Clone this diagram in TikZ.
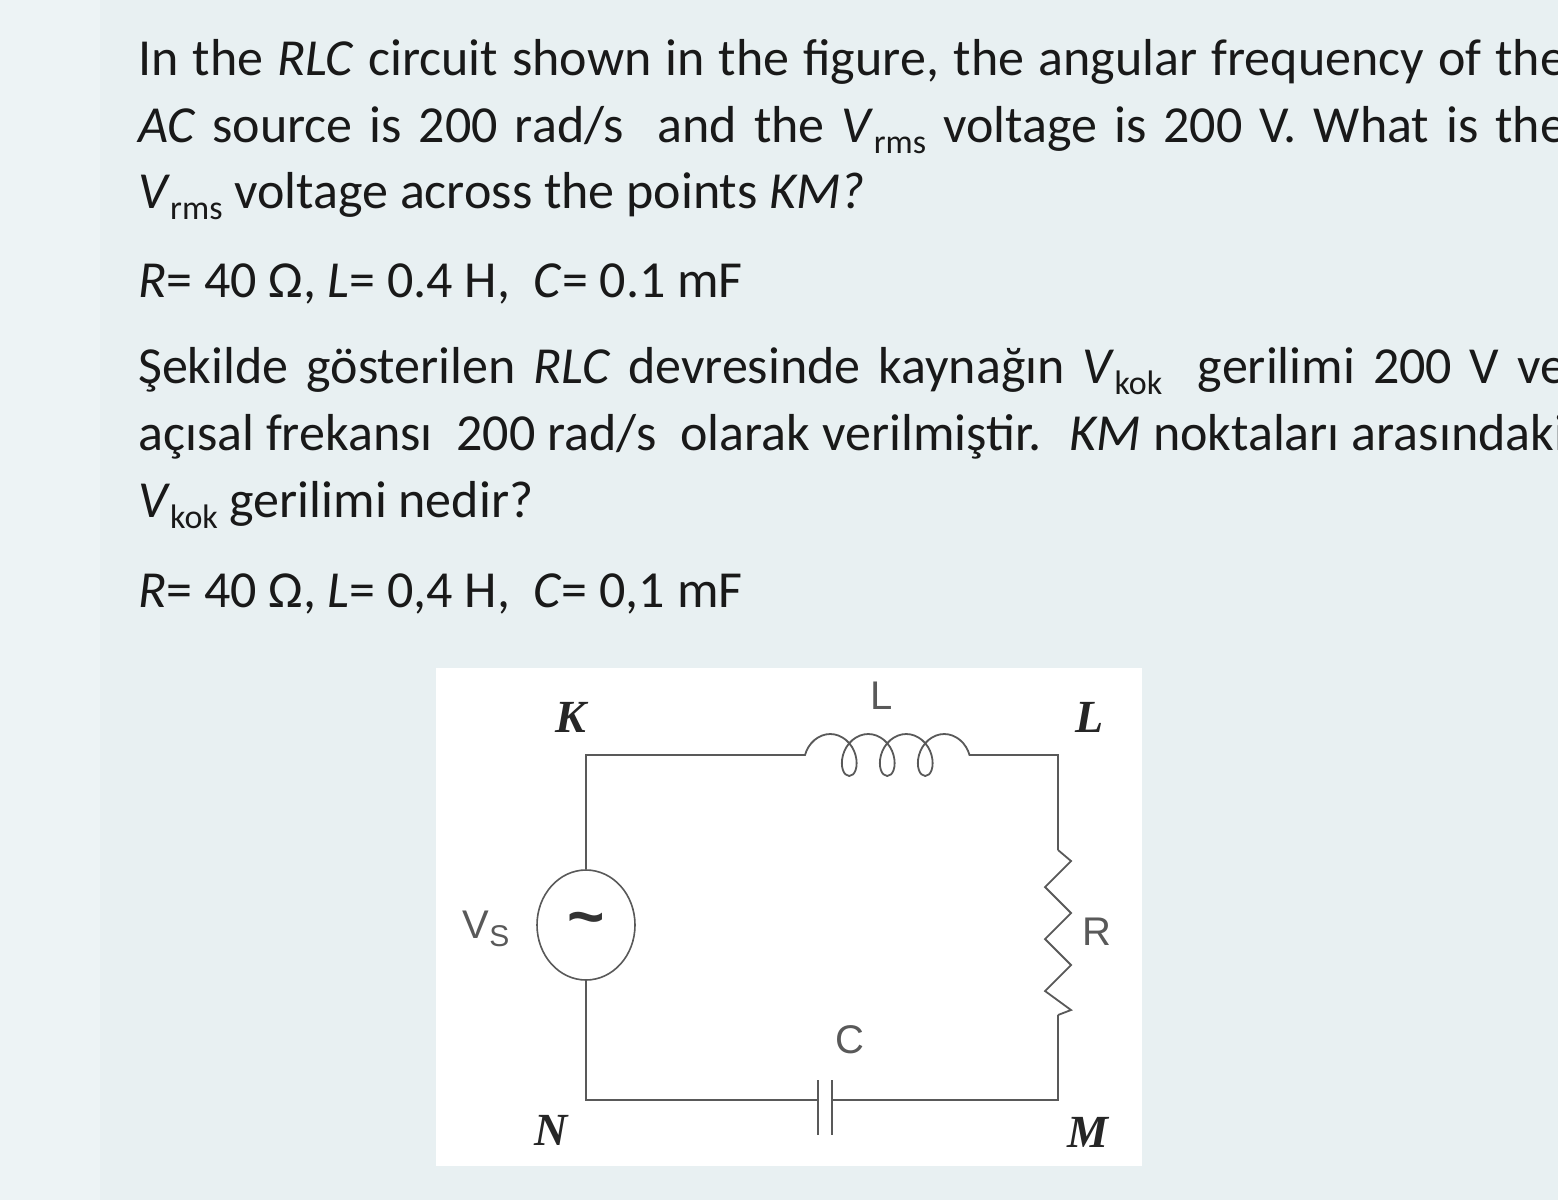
\documentclass[tikz,border=0pt]{standalone}
\usepackage{fontspec}
\setmainfont{Carlito}
\newfontfamily\arialf{Liberation Sans}
\newfontfamily\timesf{Liberation Serif}
\usetikzlibrary{decorations.pathmorphing,shapes.geometric}
\newcommand{\sbs}[1]{\raisebox{-11pt}{\fontsize{34}{34}\selectfont #1}}
\begin{document}
\begin{tikzpicture}[x=1pt,y=-1pt,
  txt/.style={anchor=base west,inner sep=0pt,font=\fontsize{52}{60}\selectfont,text=black!90},
  wire/.style={draw=black!65,line width=2.4pt},
  lab/.style={font=\timesf\bfseries\itshape\fontsize{46}{46}\selectfont,text=black!85,inner sep=0pt},
  clab/.style={font=\arialf\fontsize{40}{40}\selectfont,text=black!65,inner sep=0pt}]
\useasboundingbox (0,0) rectangle (1558,1200);
\begin{scope}
\clip (0,0) rectangle (1558,1200);
\fill[color={rgb,255:red,232;green,240;blue,242}] (0,0) rectangle (1558,1200);
\fill[color={rgb,255:red,237;green,243;blue,245}] (0,0) rectangle (100,1200);
\node[txt] (t1) at (138,75) {\makebox[1428pt][s]{In the \textit{RLC} circuit shown in the figure, the angular frequency of the}};
\node[txt] (t2) at (138,142) {\makebox[1428pt][s]{\textit{AC} source is 200 rad/s \ and the \textit{V}\sbs{rms} voltage is 200 V. What is the}};
\node[txt] (t3) at (138,208) {\textit{V}\sbs{rms} voltage across the points \textit{KM?}};
\node[txt] (t4) at (138,297) {\textit{R}= 40 Ω, \textit{L}= 0.4 H, \ \textit{C}= 0.1 mF};
\node[txt] (t5) at (138,383) {\makebox[1428pt][s]{Şekilde gösterilen \textit{RLC} devresinde kaynağın \textit{V}\sbs{kok} \ gerilimi 200 V ve}};
\node[txt] (t6) at (138,450) {\makebox[1428pt][s]{açısal frekansı \ 200 rad/s \ olarak verilmiştir. \ \textit{KM} noktaları arasındaki}};
\node[txt] (t7) at (138,517) {\textit{V}\sbs{kok} gerilimi nedir?};
\node[txt] (t8) at (138,607) {\textit{R}= 40 Ω, \textit{L}= 0,4 H, \ \textit{C}= 0,1 mF};
\end{scope}
% circuit
\fill[white] (436,668) rectangle (1142,1166);
\coordinate (K) at (586,755);
\coordinate (Lc) at (1058,755);
\coordinate (M) at (1058,1100);
\coordinate (N) at (586,1100);
\node[draw=black!65,line width=1.6pt,ellipse,minimum width=98pt,minimum height=110pt,inner sep=0pt] (src) at (586,925) {};
\node[font=\arialf\bfseries\fontsize{64}{64}\selectfont,text=black!80,inner sep=0pt] (til) at (586,925) {\char"7E};
\coordinate (l1) at (804,755);
\coordinate (l2) at (988,755);
\coordinate (r1) at (1058,850);
\coordinate (r2) at (1058,1015);
\coordinate (c1) at (818,1100);
\coordinate (c2) at (832,1100);
\draw[wire] (src.north) -- (K) -- (l1);
\draw[wire] (l2) -- (Lc) -- (r1);
\draw[wire,line width=1.8pt,decorate,decoration={coil,aspect=0.75,segment length=38pt,amplitude=21pt,pre length=1pt,post length=1pt}] (l1) -- (l2);
\draw[wire,line width=1.8pt] (r1) -- (1071,861) -- (1045,887) -- (1071,913) -- (1045,939) -- (1071,965) -- (1045,991) -- (1071,1010) -- (r2);
\draw[wire] (r2) -- (M) -- (c2);
\draw[wire] (c1) -- (N) -- (src.south);
\draw[wire,line width=1.8pt] (818,1080) -- (818,1135) (832,1080) -- (832,1135);
\node[lab] (kl) at (571,717) {K};
\node[lab] (ll) at (1090,717) {L};
\node[lab] (nl) at (551,1130) {N};
\node[lab] (ml) at (1088,1132) {M};
\node[clab] (il) at (882,696) {L};
\node[clab] (vs) at (486,929) {V\raisebox{-8pt}{\fontsize{30}{30}\selectfont S}};
\node[clab] (rl) at (1097,932) {R};
\node[clab] (cl) at (850,1040) {C};
\end{tikzpicture}
\end{document}
